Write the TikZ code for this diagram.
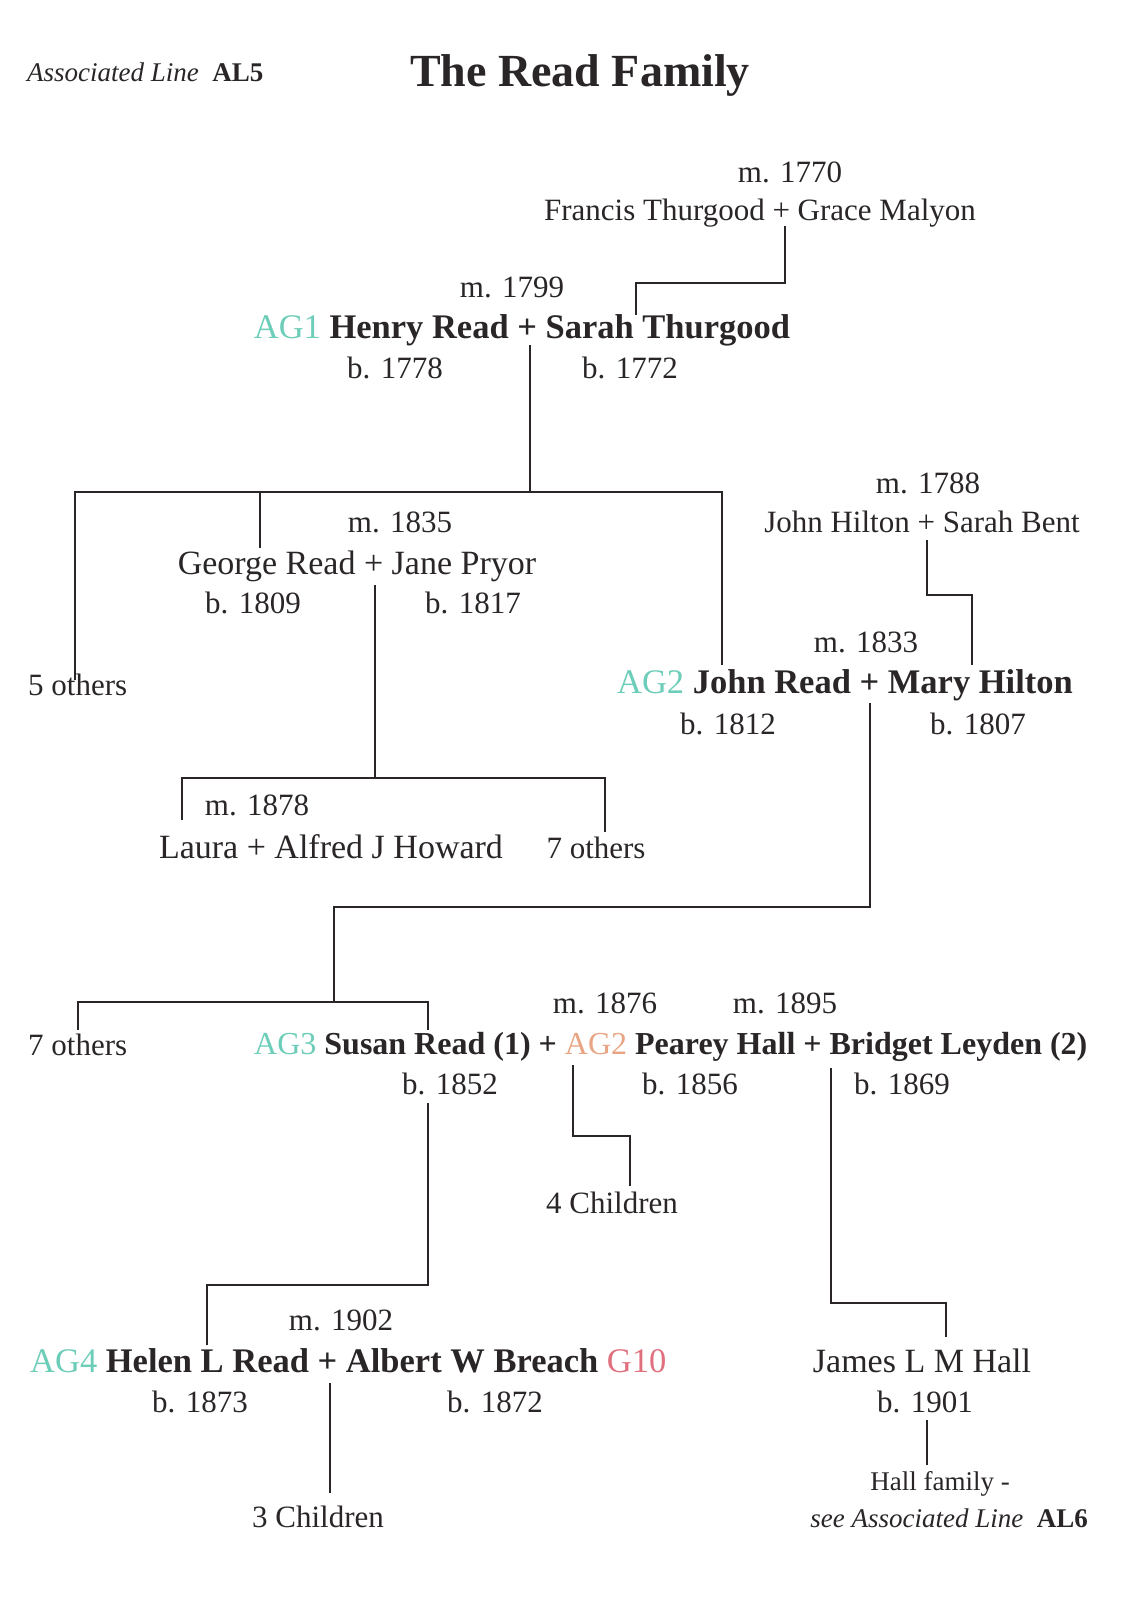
\documentclass[tikz,border=0pt]{standalone}
\usepackage{fontspec}
\setmainfont{Liberation Serif}
\definecolor{agc}{HTML}{6CCDB8}
\definecolor{agor}{HTML}{E9A583}
\definecolor{gpk}{HTML}{E0707E}
\definecolor{ink}{HTML}{2A2628}
\begin{document}
\begin{tikzpicture}[x=1pt,y=-1pt,
  t/.style={anchor=base,inner sep=0pt,text=ink,font=\fontsize{31}{34}\selectfont},
  tl/.style={t,font=\fontsize{34}{38}\selectfont},
  tb/.style={t,font=\fontsize{34.5}{38}\selectfont\bfseries},
  ts/.style={t,font=\fontsize{27}{30}\selectfont},
  ln/.style={draw=ink,line width=2.4pt}]
\useasboundingbox[fill=white] (0,0) rectangle (1145,1600);
\node[ts,anchor=base west] (al5) at (27,82) {\itshape Associated Line \upshape\bfseries\ AL5};
\node[t,font=\fontsize{46}{50}\selectfont\bfseries] (title) at (580,87) {The Read Family};
% generation 0
\node[t] (m1770) at (790,182) {m. 1770};
\node[t] (ft) at (760,220) {Francis Thurgood + Grace Malyon};
\coordinate (c1) at (785,226); \coordinate (c1b) at (636,315);
\draw[ln] (c1) |- (710,283) -| (c1b);
% gen 1
\node[t] (m1799) at (512,297) {m. 1799};
\node[tb] (hr) at (522,338) {\textcolor{agc}{\mdseries AG1} Henry Read + Sarah Thurgood};
\node[t] (b1778) at (395,378) {b. 1778};
\node[t] (b1772) at (630,378) {b. 1772};
\coordinate (c2) at (530,345); \coordinate (h2) at (530,492);
\coordinate (d5) at (75,680); \coordinate (dg) at (260,548); \coordinate (dj) at (722,665);
\draw[ln] (c2) -- (h2);
\draw[ln] (d5) |- (h2) -| (dj);
\draw[ln] (dg) -- (260,492);
\node[t,anchor=base west] (o5) at (28,695) {5 others};
\node[t] (m1835) at (400,532) {m. 1835};
\node[tl] (gr) at (357,574) {George Read + Jane Pryor};
\node[t] (b1809) at (253,613) {b. 1809};
\node[t] (b1817) at (473,613) {b. 1817};
\coordinate (c3) at (375,585); \coordinate (h3) at (375,778);
\coordinate (dl) at (182,820); \coordinate (d7) at (605,832);
\draw[ln] (c3) -- (h3);
\draw[ln] (dl) |- (h3) -| (d7);
\node[t] (m1878) at (257,815) {m. 1878};
\node[tl] (la) at (331,858) {Laura + Alfred J Howard};
\node[t] (o7a) at (596,858) {7 others};
\node[t] (m1788) at (928,493) {m. 1788};
\node[t] (jh) at (922,532) {John Hilton + Sarah Bent};
\coordinate (c4) at (927,540);
\draw[ln] (c4) |- (950,595) -| (972,665);
\node[t] (m1833) at (866,652) {m. 1833};
\node[tb] (jr) at (845,693) {\textcolor{agc}{\mdseries AG2} John Read + Mary Hilton};
\node[t] (b1812) at (728,734) {b. 1812};
\node[t] (b1807) at (978,734) {b. 1807};
% gen 3
\coordinate (c5) at (870,703); \coordinate (h5) at (334,1002);
\draw[ln] (c5) |- (600,907) -| (h5);
\draw[ln] (78,1030) |- (h5) -| (428,1030);
\node[t,anchor=base west] (o7b) at (28,1055) {7 others};
\node[t] (m1876) at (605,1013) {m. 1876};
\node[t] (m1895) at (785,1013) {m. 1895};
\node[tb,anchor=base west,font=\fontsize{32}{36}\selectfont\bfseries] (sr) at (254,1054) {\textcolor{agc}{\mdseries AG3} Susan Read (1) + \textcolor{agor}{\mdseries AG2} Pearey Hall + Bridget Leyden (2)};
\node[t] (b1852) at (450,1094) {b. 1852};
\node[t] (b1856) at (690,1094) {b. 1856};
\node[t] (b1869) at (902,1094) {b. 1869};
\coordinate (c6) at (573,1065);
\draw[ln] (c6) |- (600,1136) -| (630,1186);
\node[t] (ch4) at (612,1213) {4 Children};
\coordinate (c7) at (428,1103);
\draw[ln] (c7) |- (300,1285) -| (207,1345);
\coordinate (c8) at (831,1068);
\draw[ln] (c8) |- (900,1303) -| (946,1337);
% gen 4
\node[t] (m1902) at (341,1330) {m. 1902};
\node[tb,anchor=base west] (hl) at (30,1372) {\textcolor{agc}{\mdseries AG4} Helen L Read + Albert W Breach \textcolor{gpk}{\mdseries G10}};
\node[t] (b1873) at (200,1412) {b. 1873};
\node[t] (b1872) at (495,1412) {b. 1872};
\draw[ln] (330,1383) -- (330,1493);
\node[t] (ch3) at (318,1527) {3 Children};
\node[tl] (jlm) at (922,1372) {James L M Hall};
\node[t] (b1901) at (925,1412) {b. 1901};
\draw[ln] (927,1420) -- (927,1465);
\node[ts] (hf) at (940,1490) {Hall family -};
\node[ts,anchor=base east] (al6) at (1088,1527) {\itshape see Associated Line \upshape\bfseries\ AL6};
\end{tikzpicture}
\end{document}
